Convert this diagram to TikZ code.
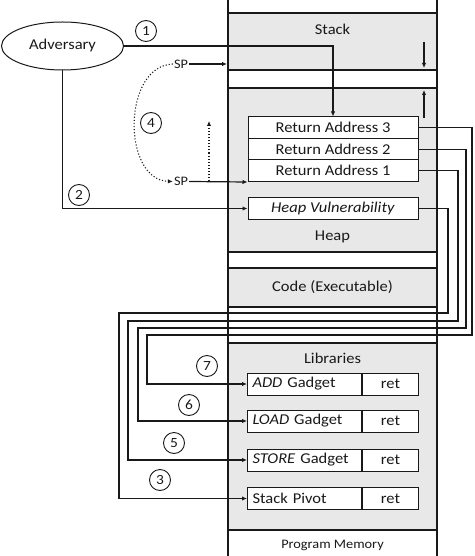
\documentclass[tikz,border=0pt]{standalone}
\usepackage{fontspec}
\setmainfont{Carlito}[FakeStretch=1.1]
\usetikzlibrary{arrows.meta,calc,shapes.geometric}
\definecolor{memgray}{RGB}{232,232,232}
\definecolor{ink}{RGB}{25,25,25}
\begin{document}
\begin{tikzpicture}[x=1pt,y=-1pt,
  line/.style={draw=ink, line width=1.2pt},
  arr/.style={line, -{Latex[length=5pt,width=4.5pt]}},
  darr/.style={draw=ink, line width=1.1pt, dotted, -{Latex[length=5pt,width=4.5pt]}},
  lbl/.style={font=\fontsize{15}{18}\selectfont, text=ink},
  num/.style={circle, draw=ink, line width=0.9pt, minimum size=21pt, inner sep=0pt, font=\fontsize{14}{16}\selectfont, text=ink},
  spl/.style={font=\fontsize{13}{15}\selectfont, text=ink, inner sep=1pt},
  box/.style={draw=ink, fill=white, line width=1pt, minimum width=170pt, minimum height=21.5pt, inner sep=0pt, lbl},
  gbox/.style={draw=ink, fill=white, line width=1pt, minimum height=22pt, text width=104pt, inner xsep=5pt, inner ysep=0pt, align=left, anchor=west, lbl},
  rbox/.style={draw=ink, fill=white, line width=1pt, minimum height=22pt, minimum width=56pt, inner sep=0pt, anchor=west, lbl},
  memline/.style={draw=ink, line width=1.1pt},
  border/.style={draw=ink, line width=2.6pt}
]
\useasboundingbox (0,0) rectangle (474,556);

% memory regions
\fill[memgray] (228,13) rectangle (437,70);
\fill[memgray] (228,88) rectangle (437,252);
\fill[memgray] (228,268) rectangle (437,307);
\fill[memgray] (228,343) rectangle (437,530);
\foreach \yy in {13,70,88,252,268,307,343,530}
  \draw[memline] (228,\yy) -- (437,\yy);

\node[lbl] (stack) at (332.5,29) {Stack};
\node[lbl] (heap) at (332.5,237) {Heap};
\node[lbl] (code) at (332.5,287) {Code (Executable)};
\node[lbl] (libs) at (332.5,358) {Libraries};
\node[font=\fontsize{13}{15}\selectfont, text=ink] (pm) at (332.5,545) {Program Memory};

% stack growth arrows
\coordinate (sd1) at (424,42);
\coordinate (sd2) at (424,68);
\coordinate (su1) at (424,118);
\coordinate (su2) at (424,90);
\draw[arr] (sd1) -- (sd2);
\draw[arr] (su1) -- (su2);

% return addresses
\node[box] (ra3) at (333,127.75) {Return Address 3};
\node[box] (ra2) at (333,149.25) {Return Address 2};
\node[box] (ra1) at (333,170.75) {Return Address 1};
\node[box] (hv) at (333,208.5) {\textit{Heap Vulnerability}};

% gadgets
\node[gbox] (add) at (247,384) {\textit{ADD} Gadget};
\node[rbox] (addr) at (add.east) {ret};
\node[gbox] (load) at (247,421) {\textit{LOAD} Gadget};
\node[rbox] (loadr) at (load.east) {ret};
\node[gbox] (store) at (247,460) {\textit{STORE} Gadget};
\node[rbox] (storer) at (store.east) {ret};
\node[gbox] (pivot) at (247,498.5) {Stack Pivot};
\node[rbox] (pivotr) at (pivot.east) {ret};

% adversary
\node[ellipse, draw=ink, line width=1pt, minimum width=122pt, minimum height=48pt, inner sep=0pt, lbl] (adv) at (62.5,46) {Adversary};
\draw[arr] (adv.east) -| (ra3.north);
\draw[arr] (adv.south) |- (hv.west);

% SP
\node[spl] (sp1) at (181,64) {SP};
\node[spl] (sp2) at (181,181.5) {SP};
\coordinate (stk) at (227,64);
\draw[arr] (sp1.east) -- (stk);
\draw[arr] (sp2.east) -- (ra1.south west);
\coordinate (d1) at (209,181.5);
\coordinate (d2) at (209,121);
\draw[darr] (d1) -- (d2);
\draw[darr] (sp1.west) .. controls (122,66) and (122,180) .. (sp2.west);

% numbers
\node[num] (n1) at (146,31) {1};
\node[num] (n2) at (79,195) {2};
\node[num] (n4) at (151,123) {4};
\node[num] (n7) at (207,366) {7};
\node[num] (n6) at (189,405) {6};
\node[num] (n5) at (174,443) {5};
\node[num] (n3) at (160,480) {3};

% routing
\draw[arr] (hv.east) -| (448,313) -- (119,313) |- (pivot.west);
\draw[arr] (ra1.east) -| (458,321) -- (128,321) |- (store.west);
\draw[arr] (ra2.east) -| (466,328) -- (138,328) |- (load.west);
\draw[arr] (ra3.east) -| (472,335) -- (147,335) |- (add.west);

% borders
\draw[border] (228,0) -- (228,556);
\draw[border] (437,0) -- (437,556);
\end{tikzpicture}
\end{document}
